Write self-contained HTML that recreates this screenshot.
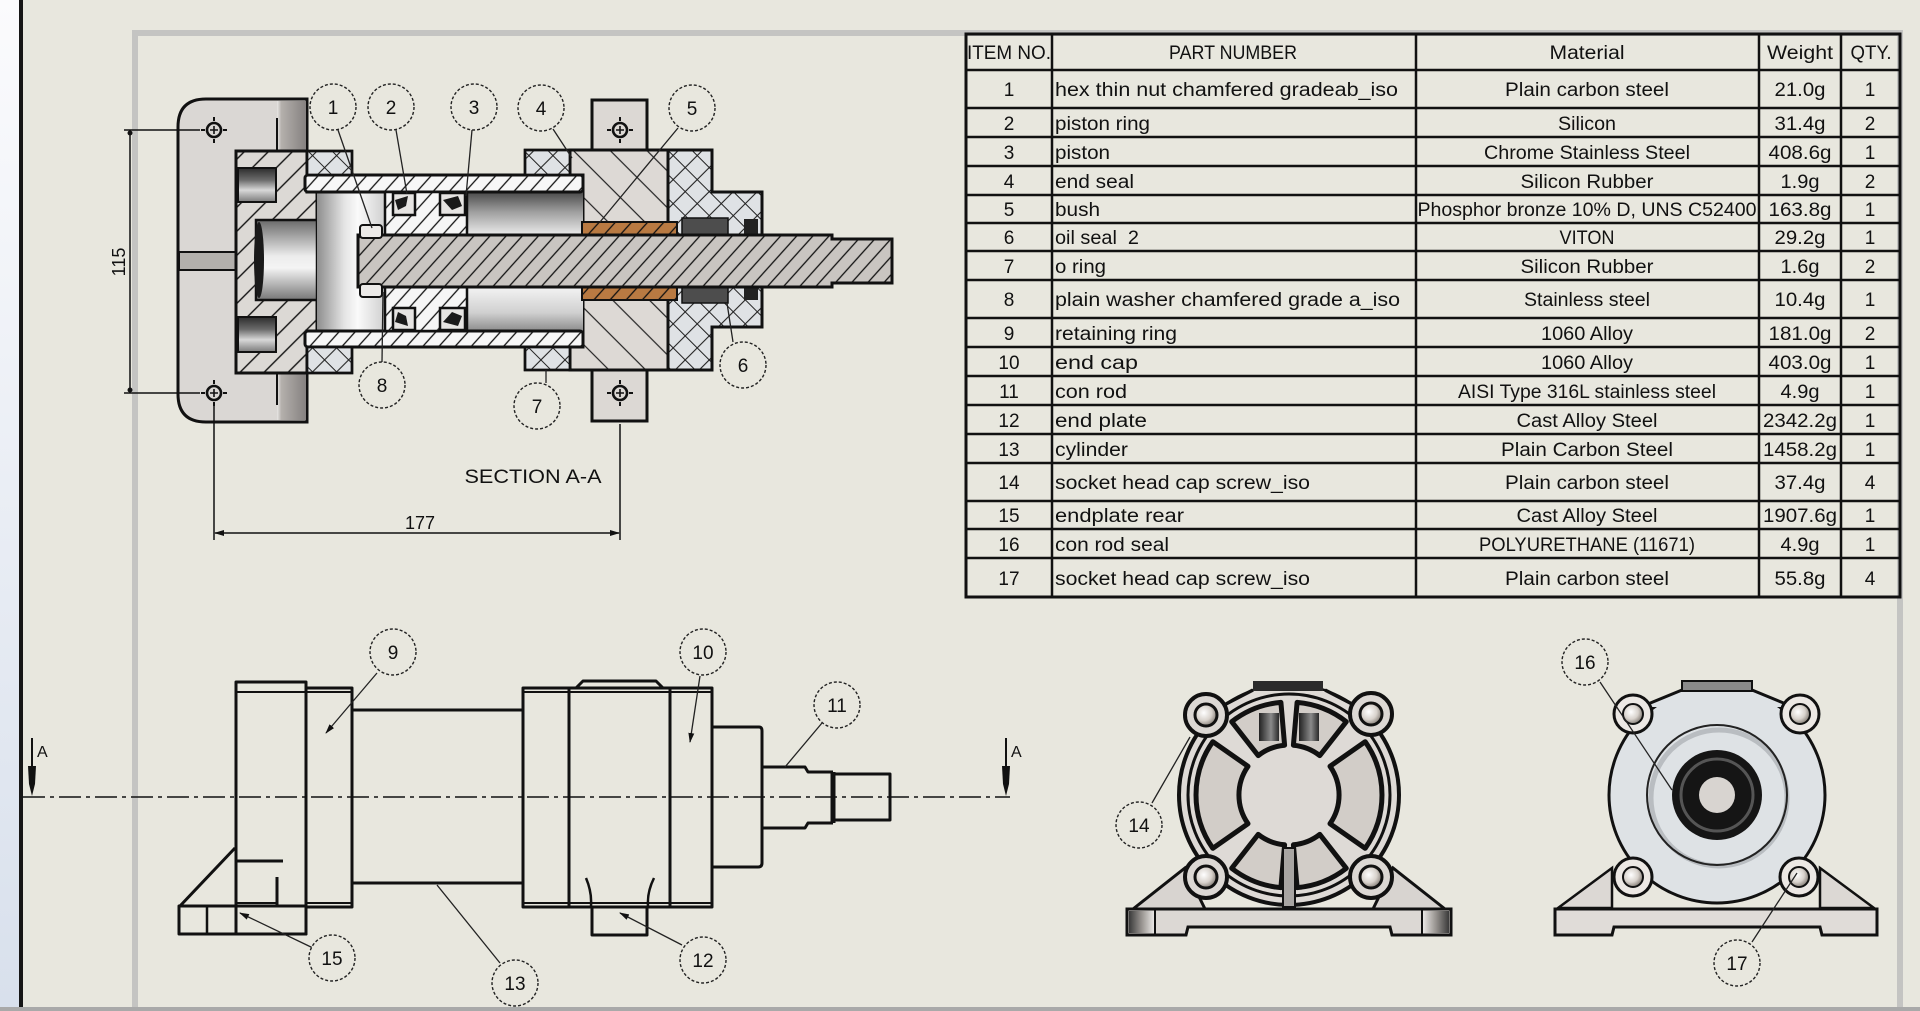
<!DOCTYPE html>
<html><head><meta charset="utf-8">
<style>
html,body{margin:0;padding:0;background:#e8e7de;overflow:hidden;width:1920px;height:1011px}
svg{display:block}
text{font-family:"Liberation Sans",sans-serif;fill:#111}
</style></head><body>
<svg width="1920" height="1011" viewBox="0 0 1920 1011" xmlns="http://www.w3.org/2000/svg">
<defs>
 <linearGradient id="gLeft" x1="0" y1="0" x2="0" y2="1"><stop offset="0" stop-color="#fbfbfd"/><stop offset="1" stop-color="#d8e0ec"/></linearGradient>
 <pattern id="hA" width="17" height="17" patternUnits="userSpaceOnUse" patternTransform="rotate(45)"><line x1="8" y1="0" x2="8" y2="17" stroke="#111" stroke-width="1.4"/></pattern>
 <pattern id="hB" width="12" height="12" patternUnits="userSpaceOnUse" patternTransform="rotate(42)"><line x1="6" y1="0" x2="6" y2="12" stroke="#111" stroke-width="1.3"/></pattern>
 <pattern id="hC" width="26" height="26" patternUnits="userSpaceOnUse" patternTransform="rotate(-45)"><line x1="13" y1="0" x2="13" y2="26" stroke="#222" stroke-width="1.2"/></pattern>
 <pattern id="hX" width="17" height="17" patternUnits="userSpaceOnUse" patternTransform="rotate(45)"><line x1="8" y1="0" x2="8" y2="17" stroke="#222" stroke-width="1.1"/><line x1="0" y1="8" x2="17" y2="8" stroke="#222" stroke-width="1.1"/></pattern>
 <linearGradient id="gStrip" x1="0" y1="0" x2="1" y2="0"><stop offset="0" stop-color="#e8e6e4"/><stop offset="0.15" stop-color="#b4b0ac"/><stop offset="1" stop-color="#858180"/></linearGradient>
 <linearGradient id="gBore" x1="0" y1="0" x2="0" y2="1"><stop offset="0" stop-color="#2c2c2c"/><stop offset="0.35" stop-color="#6a6a6a"/><stop offset="0.65" stop-color="#d8d8d8"/><stop offset="1" stop-color="#7a7a7a"/></linearGradient>
 <linearGradient id="gBoss" x1="0" y1="0" x2="0" y2="1"><stop offset="0" stop-color="#6a6a6a"/><stop offset="0.45" stop-color="#ececec"/><stop offset="0.6" stop-color="#f4f4f4"/><stop offset="1" stop-color="#777"/></linearGradient>
 <linearGradient id="gCh" x1="0" y1="0" x2="1" y2="0"><stop offset="0" stop-color="#8e8e8e"/><stop offset="0.4" stop-color="#e4e4e4"/><stop offset="0.6" stop-color="#fafafa"/><stop offset="1" stop-color="#cfcfcf"/></linearGradient>
 <linearGradient id="gChT" x1="0" y1="0" x2="0" y2="1"><stop offset="0" stop-color="#4a4a4a"/><stop offset="0.45" stop-color="#a0a0a0"/><stop offset="1" stop-color="#f2f2f2"/></linearGradient>
 <linearGradient id="gChB" x1="0" y1="0" x2="0" y2="1"><stop offset="0" stop-color="#f6f6f6"/><stop offset="0.6" stop-color="#d0d0d0"/><stop offset="1" stop-color="#8c8c8c"/></linearGradient>
 <linearGradient id="gEnd" x1="0" y1="0" x2="1" y2="0"><stop offset="0" stop-color="#f0eeec"/><stop offset="0.5" stop-color="#9a9692"/><stop offset="1" stop-color="#3a3a3a"/></linearGradient>
 <linearGradient id="gEnd2" x1="1" y1="0" x2="0" y2="0"><stop offset="0" stop-color="#f0eeec"/><stop offset="0.5" stop-color="#9a9692"/><stop offset="1" stop-color="#3a3a3a"/></linearGradient>
 <linearGradient id="gDark" x1="0" y1="0" x2="1" y2="0"><stop offset="0" stop-color="#222"/><stop offset="0.6" stop-color="#8a8a8a"/><stop offset="1" stop-color="#2a2a2a"/></linearGradient>
 <radialGradient id="gBolt" cx="0.4" cy="0.4" r="0.6"><stop offset="0" stop-color="#ffffff"/><stop offset="0.6" stop-color="#d8d2cc"/><stop offset="1" stop-color="#8a837c"/></radialGradient>
 <marker id="ar" markerWidth="10" markerHeight="6" refX="9" refY="3" orient="auto" markerUnits="userSpaceOnUse"><path d="M0,0 L10,3 L0,6 Z" fill="#111"/></marker>
 <marker id="ar2" markerWidth="10" markerHeight="6" refX="1" refY="3" orient="auto" markerUnits="userSpaceOnUse"><path d="M10,0 L0,3 L10,6 Z" fill="#111"/></marker>
 <g id="ch">
  <circle cx="0" cy="0" r="7" fill="none" stroke="#111" stroke-width="2.6"/>
  <path d="M-4,0 H4 M0,-4 V4" stroke="#111" stroke-width="1.6"/>
  <path d="M0,-13 V-9 M0,9 V13 M-13,0 H-9 M9,0 H13" stroke="#111" stroke-width="2"/>
 </g>
</defs>

<!-- background -->
<rect x="0" y="0" width="1920" height="1011" fill="#e8e7de"/>
<rect x="0" y="0" width="19" height="1011" fill="url(#gLeft)"/>
<rect x="19" y="0" width="4" height="1011" fill="#161616"/>
<rect x="132" y="30" width="1771" height="6" fill="#c4c4c2"/>
<rect x="132" y="30" width="6" height="977" fill="#c4c4c2"/>
<rect x="1897" y="30" width="6" height="977" fill="#c4c4c2"/>
<rect x="0" y="1007" width="1920" height="4" fill="#a9a9a9"/>

<!-- ================= SECTION A-A ================= -->
<!-- left flange -->
<path d="M307,99 H206 Q178,99 178,127 V394 Q178,422 206,422 H307 Z" fill="#dad7d4" stroke="#111" stroke-width="3"/>
<rect x="277" y="101" width="29" height="50" fill="url(#gStrip)"/>
<rect x="277" y="373" width="29" height="47" fill="url(#gStrip)"/>
<line x1="277" y1="118" x2="277" y2="151" stroke="#111" stroke-width="2"/>
<line x1="277" y1="373" x2="277" y2="405" stroke="#111" stroke-width="2"/>
<rect x="179" y="252" width="57" height="18" fill="#b3b0ac" stroke="#111" stroke-width="2"/>
<use href="#ch" x="214" y="130"/>
<use href="#ch" x="214" y="393"/>

<!-- rear hatched body -->
<path d="M236,151 H307 V192 H317 V331 H307 V373 H236 Z" fill="#dcd9d5"/>
<path d="M236,151 H307 V192 H317 V331 H307 V373 H236 Z" fill="url(#hA)" stroke="#111" stroke-width="3"/>
<rect x="238" y="168" width="38" height="34" fill="url(#gBore)" stroke="#111" stroke-width="2"/>
<rect x="238" y="317" width="38" height="35" fill="url(#gBore)" stroke="#111" stroke-width="2"/>
<rect x="256" y="220" width="61" height="80" fill="url(#gBoss)" stroke="#111" stroke-width="2.5"/>
<ellipse cx="259" cy="260" rx="5" ry="38" fill="#1a1a1a"/>
<rect x="317" y="192" width="68" height="139" fill="url(#gCh)"/>

<!-- front cap body -->
<path d="M570,150 H668 V370 H570 V347 H583 V175 H570 Z" fill="#ddd9d5"/>
<path d="M570,150 H668 V370 H570 V347 H583 V175 H570 Z" fill="url(#hC)" stroke="#111" stroke-width="3"/>
<rect x="592" y="100" width="55" height="50" fill="#dcd8d4" stroke="#111" stroke-width="3"/>
<rect x="592" y="370" width="55" height="51" fill="#dcd8d4" stroke="#111" stroke-width="3"/>
<use href="#ch" x="620" y="130"/>
<use href="#ch" x="620" y="393"/>

<!-- chambers right of piston -->
<rect x="465" y="192" width="118" height="45" fill="url(#gChT)"/>
<rect x="465" y="285" width="118" height="46" fill="url(#gChB)"/>

<!-- tubes -->
<rect x="305" y="175" width="278" height="17" rx="3" fill="#f7f7f7"/>
<rect x="305" y="175" width="278" height="17" rx="3" fill="url(#hB)" stroke="#111" stroke-width="3"/>
<rect x="305" y="331" width="278" height="16" rx="3" fill="#f7f7f7"/>
<rect x="305" y="331" width="278" height="16" rx="3" fill="url(#hB)" stroke="#111" stroke-width="3"/>

<!-- seal blocks (crosshatched) -->
<g stroke="#111" stroke-width="2.5">
 <rect x="307" y="151" width="45" height="24" fill="#dfe2e5"/>
 <rect x="307" y="347" width="45" height="26" fill="#dfe2e5"/>
 <rect x="525" y="150" width="45" height="25" fill="#dfe2e5"/>
 <rect x="525" y="347" width="45" height="23" fill="#dfe2e5"/>
</g>
<g fill="url(#hX)" stroke="#111" stroke-width="2.5">
 <rect x="307" y="151" width="45" height="24"/>
 <rect x="307" y="347" width="45" height="26"/>
 <rect x="525" y="150" width="45" height="25"/>
 <rect x="525" y="347" width="45" height="23"/>
</g>

<!-- piston -->
<rect x="385" y="192" width="82" height="45" fill="#f6f6f6"/>
<rect x="385" y="192" width="82" height="45" fill="url(#hB)" stroke="#111" stroke-width="2.5"/>
<rect x="385" y="285" width="82" height="46" fill="#f6f6f6"/>
<rect x="385" y="285" width="82" height="46" fill="url(#hB)" stroke="#111" stroke-width="2.5"/>
<g fill="#e6e4e2" stroke="#111" stroke-width="2.5">
 <rect x="393" y="193" width="22" height="22"/>
 <rect x="440" y="193" width="25" height="22"/>
 <rect x="393" y="308" width="22" height="22"/>
 <rect x="440" y="308" width="25" height="22"/>
</g>
<g fill="#1a1a1a">
 <path d="M395,200 L408,196 L406,206 L398,210 Z"/>
 <path d="M443,200 L458,196 L462,206 L452,210 Z"/>
 <path d="M395,322 L408,326 L406,316 L398,312 Z"/>
 <path d="M443,322 L458,326 L462,316 L452,312 Z"/>
</g>

<!-- crosshatched end block -->
<path d="M668,150 H712 V192 H762 V235 H668 Z" fill="#dfe2e5"/>
<path d="M668,287 H762 V327 H712 V370 H668 Z" fill="#dfe2e5"/>
<path d="M668,150 H712 V192 H762 V235 H668 Z" fill="url(#hX)" stroke="#111" stroke-width="3"/>
<path d="M668,287 H762 V327 H712 V370 H668 Z" fill="url(#hX)" stroke="#111" stroke-width="3"/>
<rect x="682" y="218" width="46" height="17" fill="#4d4d4d" stroke="#111" stroke-width="1.5"/>
<rect x="682" y="287" width="46" height="16" fill="#4d4d4d" stroke="#111" stroke-width="1.5"/>
<rect x="744" y="219" width="14" height="15" fill="#222"/>
<rect x="744" y="288" width="14" height="12" fill="#222"/>

<!-- bush -->
<rect x="582" y="222" width="95" height="13" fill="#b97a42"/>
<rect x="582" y="222" width="95" height="13" fill="url(#hB)" stroke="#111" stroke-width="2"/>
<rect x="582" y="287" width="95" height="13" fill="#b97a42"/>
<rect x="582" y="287" width="95" height="13" fill="url(#hB)" stroke="#111" stroke-width="2"/>

<!-- rod -->
<path d="M358,235 H832 V239 H892 V283 H832 V287 H358 Z" fill="#c9c5c1"/>
<path d="M358,235 H832 V239 H892 V283 H832 V287 H358 Z" fill="url(#hB)" stroke="#111" stroke-width="3"/>
<rect x="360" y="225" width="22" height="13" rx="3" fill="#eceae8" stroke="#111" stroke-width="2"/>
<rect x="360" y="284" width="22" height="13" rx="3" fill="#eceae8" stroke="#111" stroke-width="2"/>

<!-- dimension 115 -->
<g stroke="#111" stroke-width="1.5">
 <line x1="124" y1="130" x2="200" y2="130"/>
 <line x1="124" y1="393" x2="200" y2="393"/>
 <line x1="130" y1="130" x2="130" y2="393"/>
</g>
<circle cx="130" cy="133" r="2.5" fill="#111"/>
<circle cx="130" cy="390" r="2.5" fill="#111"/>
<text transform="translate(125,262) rotate(-90)" text-anchor="middle" font-size="18">115</text>

<!-- dimension 177 -->
<g stroke="#111" stroke-width="1.5">
 <line x1="214" y1="402" x2="214" y2="540"/>
 <line x1="620" y1="424" x2="620" y2="540"/>
 <line x1="215" y1="533" x2="619" y2="533" marker-start="url(#ar2)" marker-end="url(#ar)"/>
</g>
<text x="420" y="529" text-anchor="middle" font-size="18">177</text>
<text x="533" y="483" text-anchor="middle" font-size="19" textLength="137" lengthAdjust="spacingAndGlyphs">SECTION A-A</text>

<!-- section leaders -->
<g stroke="#222" stroke-width="1.3">
 <line x1="338" y1="130" x2="372" y2="228"/>
 <line x1="396" y1="130" x2="407" y2="194"/>
 <line x1="472" y1="130" x2="466" y2="196"/>
 <line x1="553" y1="129" x2="572" y2="158"/>
 <line x1="678" y1="128" x2="600" y2="222"/>
 <line x1="733" y1="342" x2="727" y2="303"/>
 <line x1="546" y1="383" x2="546" y2="370"/>
 <line x1="382" y1="362" x2="383" y2="292"/>
</g>

<!-- ================= SIDE VIEW ================= -->
<g stroke="#111" stroke-width="3" fill="none" stroke-linejoin="round">
 <rect x="236" y="682" width="70" height="252"/>
 <line x1="236" y1="692" x2="306" y2="692" stroke-width="2"/>
 <rect x="306" y="688" width="46" height="219"/>
 <line x1="306" y1="692" x2="352" y2="692" stroke-width="2"/>
 <line x1="306" y1="903" x2="352" y2="903" stroke-width="2"/>
 <line x1="352" y1="710" x2="523" y2="710"/>
 <line x1="352" y1="883" x2="523" y2="883"/>
 <line x1="235" y1="848" x2="180" y2="906"/>
 <rect x="179" y="906" width="127" height="28"/>
 <line x1="207" y1="906" x2="207" y2="934" stroke-width="2.5"/>
 <line x1="237" y1="861" x2="283" y2="861"/>
 <line x1="277" y1="877" x2="277" y2="906"/>
 <line x1="237" y1="903" x2="277" y2="903" stroke-width="2"/>
 <rect x="523" y="688" width="189" height="219"/>
 <line x1="523" y1="692" x2="712" y2="692" stroke-width="2"/>
 <line x1="523" y1="903" x2="712" y2="903" stroke-width="2"/>
 <line x1="569" y1="688" x2="569" y2="907"/>
 <line x1="670" y1="688" x2="670" y2="907"/>
 <path d="M576,688 L583,681 H656 L663,688"/>
 <path d="M592,907 V935 H647 V907"/>
 <path d="M586,878 Q592,892 591,906" stroke-width="2.5"/>
 <path d="M654,878 Q647,892 648,906" stroke-width="2.5"/>
 <path d="M712,727 H759 Q762,727 762,731 V863 Q762,867 758,867 H712"/>
 <path d="M762,767 H805 L808,772 H833 M833,823 H808 L805,828 H762"/>
 <rect x="833" y="774" width="57" height="46"/>
</g>
<line x1="833" y1="772" x2="833" y2="823" stroke="#111" stroke-width="5"/>

<!-- centerline + section arrows -->
<line x1="23" y1="797" x2="1010" y2="797" stroke="#111" stroke-width="1.5" stroke-dasharray="22 5 4 5"/>
<line x1="32" y1="738" x2="32" y2="768" stroke="#111" stroke-width="2"/>
<path d="M28,766 L36,766 L35,784 L32,796 L29,784 Z" fill="#111"/>
<text x="37" y="757" font-size="16">A</text>
<line x1="1006" y1="738" x2="1006" y2="768" stroke="#111" stroke-width="2"/>
<path d="M1002,766 L1010,766 L1009,784 L1006,796 L1003,784 Z" fill="#111"/>
<text x="1011" y="757" font-size="16">A</text>

<!-- side view leaders -->
<g stroke="#222" stroke-width="1.3">
 <line x1="377" y1="673" x2="326" y2="733" marker-end="url(#ar)"/>
 <line x1="700" y1="676" x2="690" y2="742" marker-end="url(#ar)"/>
 <line x1="822" y1="723" x2="785" y2="767"/>
 <line x1="682" y1="945" x2="620" y2="913" marker-end="url(#ar)"/>
 <line x1="500" y1="963" x2="437" y2="885"/>
 <line x1="313" y1="948" x2="240" y2="913" marker-end="url(#ar)"/>
</g>

<!-- ================= FRONT VIEW 1 ================= -->
<path d="M1127,909 H1451 V935 H1392 L1390,927 H1188 L1186,935 H1127 Z" fill="#dcd8d4" stroke="#111" stroke-width="3"/>
<rect x="1129" y="911" width="26" height="22" fill="url(#gEnd2)"/>
<rect x="1422" y="911" width="27" height="22" fill="url(#gEnd)"/>
<line x1="1155" y1="910" x2="1155" y2="934" stroke="#111" stroke-width="2"/>
<line x1="1422" y1="910" x2="1422" y2="934" stroke="#111" stroke-width="2"/>
<polygon points="1133,909 1185,868 1205,909" fill="#d8d4d0" stroke="#111" stroke-width="3"/>
<polygon points="1445,909 1393,868 1373,909" fill="#d8d4d0" stroke="#111" stroke-width="3"/>
<circle cx="1289" cy="795" r="110" fill="#dedad6" stroke="#111" stroke-width="4"/>
<polygon points="1222,708 1253,691 1325,691 1356,708" fill="#dedad6"/>
<line x1="1224" y1="705" x2="1253" y2="690" stroke="#111" stroke-width="3.5"/>
<line x1="1354" y1="705" x2="1325" y2="690" stroke="#111" stroke-width="3.5"/>
<rect x="1253" y="681" width="70" height="10" fill="#2b2b2b"/>
<circle cx="1289" cy="795" r="101" fill="none" stroke="#111" stroke-width="3"/>
<g fill="#d2cdc8" stroke="#111" stroke-width="5" stroke-linejoin="round">
 <path d="M1212.8,848.3 A93,93 0 0 1 1212.8,741.7 L1248,766.3 A50,50 0 0 0 1248,823.7 Z"/>
 <path d="M1365.2,741.7 A93,93 0 0 1 1365.2,848.3 L1330,823.7 A50,50 0 0 0 1330,766.3 Z"/>
 <path d="M1231.7,721.7 A93,93 0 0 1 1280.9,702.4 L1284.6,745.2 A50,50 0 0 0 1258.2,755.6 Z"/>
 <path d="M1297.1,702.4 A93,93 0 0 1 1346.3,721.7 L1319.8,755.6 A50,50 0 0 0 1293.4,745.2 Z"/>
 <path d="M1280.9,887.6 A93,93 0 0 1 1231.7,868.3 L1258.2,834.4 A50,50 0 0 0 1284.6,844.8 Z"/>
 <path d="M1346.3,868.3 A93,93 0 0 1 1297.1,887.6 L1293.4,844.8 A50,50 0 0 0 1319.8,834.4 Z"/>
</g>
<rect x="1259" y="713" width="20" height="28" fill="url(#gDark)"/>
<rect x="1299" y="713" width="20" height="28" fill="url(#gDark)"/>
<rect x="1283" y="848" width="12" height="59" fill="#a8a5a2" stroke="#111" stroke-width="2"/>
<g stroke="#111">
 <circle cx="1206" cy="715" r="21" fill="#dcd8d4" stroke-width="4"/>
 <circle cx="1371" cy="714" r="21" fill="#dcd8d4" stroke-width="4"/>
 <circle cx="1206" cy="877" r="21" fill="#dcd8d4" stroke-width="4"/>
 <circle cx="1371" cy="877" r="21" fill="#dcd8d4" stroke-width="4"/>
 <circle cx="1206" cy="715" r="11" fill="url(#gBolt)" stroke-width="3"/>
 <circle cx="1371" cy="714" r="11" fill="url(#gBolt)" stroke-width="3"/>
 <circle cx="1206" cy="877" r="11" fill="url(#gBolt)" stroke-width="3"/>
 <circle cx="1371" cy="877" r="11" fill="url(#gBolt)" stroke-width="3"/>
</g>
<line x1="1152" y1="803" x2="1190" y2="737" stroke="#222" stroke-width="1.3"/>

<!-- ================= FRONT VIEW 2 ================= -->
<path d="M1555,909 H1877 V935 H1822 L1820,927 H1614 L1612,935 H1555 Z" fill="#e0dcd8" stroke="#111" stroke-width="3"/>
<polygon points="1558,908 1612,868 1612,908" fill="#dcd8d4" stroke="#111" stroke-width="2.5"/>
<polygon points="1874,908 1820,868 1820,908" fill="#dcd8d4" stroke="#111" stroke-width="2.5"/>
<circle cx="1717" cy="795" r="108" fill="#dee2e5" stroke="#111" stroke-width="3"/>
<polygon points="1645,707 1682,691 1752,691 1789,707" fill="#dee2e5"/>
<line x1="1648" y1="704" x2="1682" y2="690" stroke="#111" stroke-width="3"/>
<line x1="1786" y1="704" x2="1752" y2="690" stroke="#111" stroke-width="3"/>
<rect x="1682" y="681" width="70" height="10" fill="#8a8a8a" stroke="#111" stroke-width="2"/>
<circle cx="1719" cy="798" r="68" fill="none" stroke="#b9bdc1" stroke-width="5"/>
<circle cx="1717" cy="795" r="70" fill="none" stroke="#222" stroke-width="2"/>
<circle cx="1717" cy="795" r="45" fill="#151515"/>
<circle cx="1717" cy="795" r="36" fill="none" stroke="#555" stroke-width="3"/>
<circle cx="1717" cy="795" r="18" fill="#d8d4d0"/>
<g stroke="#111">
 <circle cx="1633" cy="714" r="19" fill="#ece8e4" stroke-width="3"/>
 <circle cx="1800" cy="714" r="19" fill="#ece8e4" stroke-width="3"/>
 <circle cx="1633" cy="877" r="19" fill="#ece8e4" stroke-width="3"/>
 <circle cx="1799" cy="877" r="19" fill="#ece8e4" stroke-width="3"/>
 <circle cx="1633" cy="714" r="10" fill="url(#gBolt)" stroke-width="2"/>
 <circle cx="1800" cy="714" r="10" fill="url(#gBolt)" stroke-width="2"/>
 <circle cx="1633" cy="877" r="10" fill="url(#gBolt)" stroke-width="2"/>
 <circle cx="1799" cy="877" r="10" fill="url(#gBolt)" stroke-width="2"/>
</g>
<line x1="1600" y1="682" x2="1672" y2="790" stroke="#222" stroke-width="1.3"/>
<line x1="1752" y1="942" x2="1797" y2="873" stroke="#222" stroke-width="1.3"/>

<!-- ================= BALLOONS ================= -->
<g fill="#e8e7de" stroke="#222" stroke-width="1.4" stroke-dasharray="3 2">
 <circle cx="333" cy="107" r="23"/>
 <circle cx="391" cy="107" r="23"/>
 <circle cx="474" cy="107" r="23"/>
 <circle cx="541" cy="108" r="23"/>
 <circle cx="692" cy="108" r="23"/>
 <circle cx="743" cy="365" r="23"/>
 <circle cx="537" cy="406" r="23"/>
 <circle cx="382" cy="385" r="23"/>
 <circle cx="393" cy="652" r="23"/>
 <circle cx="703" cy="652" r="23"/>
 <circle cx="837" cy="705" r="23"/>
 <circle cx="703" cy="960" r="23"/>
 <circle cx="515" cy="983" r="23"/>
 <circle cx="332" cy="958" r="23"/>
 <circle cx="1139" cy="825" r="23"/>
 <circle cx="1585" cy="662" r="23"/>
 <circle cx="1737" cy="963" r="23"/>
</g>
<g font-size="19" text-anchor="middle">
 <text x="333" y="114">1</text>
 <text x="391" y="114">2</text>
 <text x="474" y="114">3</text>
 <text x="541" y="115">4</text>
 <text x="692" y="115">5</text>
 <text x="743" y="372">6</text>
 <text x="537" y="413">7</text>
 <text x="382" y="392">8</text>
 <text x="393" y="659">9</text>
 <text x="703" y="659">10</text>
 <text x="837" y="712">11</text>
 <text x="703" y="967">12</text>
 <text x="515" y="990">13</text>
 <text x="332" y="965">15</text>
 <text x="1139" y="832">14</text>
 <text x="1585" y="669">16</text>
 <text x="1737" y="970">17</text>
</g>

<!-- ================= TABLE ================= -->
<g stroke="#111" stroke-width="2.5" fill="none">
 <rect x="966" y="34" width="934" height="563" stroke-width="3"/>
 <line x1="1052" y1="34" x2="1052" y2="597"/>
 <line x1="1416" y1="34" x2="1416" y2="597"/>
 <line x1="1759" y1="34" x2="1759" y2="597"/>
 <line x1="1841" y1="34" x2="1841" y2="597"/>
 <line x1="966" y1="70" x2="1900" y2="70"/>
 <line x1="966" y1="108" x2="1900" y2="108"/>
 <line x1="966" y1="137" x2="1900" y2="137"/>
 <line x1="966" y1="166" x2="1900" y2="166"/>
 <line x1="966" y1="195" x2="1900" y2="195"/>
 <line x1="966" y1="223" x2="1900" y2="223"/>
 <line x1="966" y1="251" x2="1900" y2="251"/>
 <line x1="966" y1="280" x2="1900" y2="280"/>
 <line x1="966" y1="318" x2="1900" y2="318"/>
 <line x1="966" y1="347" x2="1900" y2="347"/>
 <line x1="966" y1="376" x2="1900" y2="376"/>
 <line x1="966" y1="405" x2="1900" y2="405"/>
 <line x1="966" y1="434" x2="1900" y2="434"/>
 <line x1="966" y1="463" x2="1900" y2="463"/>
 <line x1="966" y1="501" x2="1900" y2="501"/>
 <line x1="966" y1="529" x2="1900" y2="529"/>
 <line x1="966" y1="558" x2="1900" y2="558"/>
</g>
<g font-size="19">
 <!-- header -->
 <text x="1009" y="59" text-anchor="middle" textLength="84" lengthAdjust="spacingAndGlyphs">ITEM NO.</text>
 <text x="1233" y="59" text-anchor="middle" textLength="128" lengthAdjust="spacingAndGlyphs">PART NUMBER</text>
 <text x="1587" y="59" text-anchor="middle" textLength="75" lengthAdjust="spacingAndGlyphs">Material</text>
 <text x="1800" y="59" text-anchor="middle" textLength="66" lengthAdjust="spacingAndGlyphs">Weight</text>
 <text x="1871" y="59" text-anchor="middle" textLength="41" lengthAdjust="spacingAndGlyphs">QTY.</text>

 <text x="1009" y="96" text-anchor="middle">1</text>
 <text x="1055" y="96" textLength="343" lengthAdjust="spacingAndGlyphs">hex thin nut chamfered gradeab_iso</text>
 <text x="1587" y="96" text-anchor="middle" textLength="164" lengthAdjust="spacingAndGlyphs">Plain carbon steel</text>
 <text x="1800" y="96" text-anchor="middle" textLength="51" lengthAdjust="spacingAndGlyphs">21.0g</text>
 <text x="1870" y="96" text-anchor="middle">1</text>

 <text x="1009" y="130" text-anchor="middle">2</text>
 <text x="1055" y="130" textLength="95" lengthAdjust="spacingAndGlyphs">piston ring</text>
 <text x="1587" y="130" text-anchor="middle" textLength="58" lengthAdjust="spacingAndGlyphs">Silicon</text>
 <text x="1800" y="130" text-anchor="middle" textLength="51" lengthAdjust="spacingAndGlyphs">31.4g</text>
 <text x="1870" y="130" text-anchor="middle">2</text>

 <text x="1009" y="159" text-anchor="middle">3</text>
 <text x="1055" y="159" textLength="55" lengthAdjust="spacingAndGlyphs">piston</text>
 <text x="1587" y="159" text-anchor="middle" textLength="206" lengthAdjust="spacingAndGlyphs">Chrome Stainless Steel</text>
 <text x="1800" y="159" text-anchor="middle" textLength="63" lengthAdjust="spacingAndGlyphs">408.6g</text>
 <text x="1870" y="159" text-anchor="middle">1</text>

 <text x="1009" y="188" text-anchor="middle">4</text>
 <text x="1055" y="188" textLength="79" lengthAdjust="spacingAndGlyphs">end seal</text>
 <text x="1587" y="188" text-anchor="middle" textLength="133" lengthAdjust="spacingAndGlyphs">Silicon Rubber</text>
 <text x="1800" y="188" text-anchor="middle" textLength="39" lengthAdjust="spacingAndGlyphs">1.9g</text>
 <text x="1870" y="188" text-anchor="middle">2</text>

 <text x="1009" y="216" text-anchor="middle">5</text>
 <text x="1055" y="216" textLength="45" lengthAdjust="spacingAndGlyphs">bush</text>
 <text x="1587" y="216" text-anchor="middle" textLength="339" lengthAdjust="spacingAndGlyphs">Phosphor bronze 10% D, UNS C52400</text>
 <text x="1800" y="216" text-anchor="middle" textLength="63" lengthAdjust="spacingAndGlyphs">163.8g</text>
 <text x="1870" y="216" text-anchor="middle">1</text>

 <text x="1009" y="244" text-anchor="middle">6</text>
 <text x="1055" y="244" textLength="84" lengthAdjust="spacingAndGlyphs" xml:space="preserve">oil seal  2</text>
 <text x="1587" y="244" text-anchor="middle" textLength="55" lengthAdjust="spacingAndGlyphs">VITON</text>
 <text x="1800" y="244" text-anchor="middle" textLength="51" lengthAdjust="spacingAndGlyphs">29.2g</text>
 <text x="1870" y="244" text-anchor="middle">1</text>

 <text x="1009" y="273" text-anchor="middle">7</text>
 <text x="1055" y="273" textLength="51" lengthAdjust="spacingAndGlyphs">o ring</text>
 <text x="1587" y="273" text-anchor="middle" textLength="133" lengthAdjust="spacingAndGlyphs">Silicon Rubber</text>
 <text x="1800" y="273" text-anchor="middle" textLength="39" lengthAdjust="spacingAndGlyphs">1.6g</text>
 <text x="1870" y="273" text-anchor="middle">2</text>

 <text x="1009" y="306" text-anchor="middle">8</text>
 <text x="1055" y="306" textLength="345" lengthAdjust="spacingAndGlyphs">plain washer chamfered grade a_iso</text>
 <text x="1587" y="306" text-anchor="middle" textLength="126" lengthAdjust="spacingAndGlyphs">Stainless steel</text>
 <text x="1800" y="306" text-anchor="middle" textLength="51" lengthAdjust="spacingAndGlyphs">10.4g</text>
 <text x="1870" y="306" text-anchor="middle">1</text>

 <text x="1009" y="340" text-anchor="middle">9</text>
 <text x="1055" y="340" textLength="122" lengthAdjust="spacingAndGlyphs">retaining ring</text>
 <text x="1587" y="340" text-anchor="middle" textLength="92" lengthAdjust="spacingAndGlyphs">1060 Alloy</text>
 <text x="1800" y="340" text-anchor="middle" textLength="63" lengthAdjust="spacingAndGlyphs">181.0g</text>
 <text x="1870" y="340" text-anchor="middle">2</text>

 <text x="1009" y="369" text-anchor="middle">10</text>
 <text x="1055" y="369" textLength="83" lengthAdjust="spacingAndGlyphs">end cap</text>
 <text x="1587" y="369" text-anchor="middle" textLength="92" lengthAdjust="spacingAndGlyphs">1060 Alloy</text>
 <text x="1800" y="369" text-anchor="middle" textLength="63" lengthAdjust="spacingAndGlyphs">403.0g</text>
 <text x="1870" y="369" text-anchor="middle">1</text>

 <text x="1009" y="398" text-anchor="middle">11</text>
 <text x="1055" y="398" textLength="72" lengthAdjust="spacingAndGlyphs">con rod</text>
 <text x="1587" y="398" text-anchor="middle" textLength="258" lengthAdjust="spacingAndGlyphs">AISI Type 316L stainless steel</text>
 <text x="1800" y="398" text-anchor="middle" textLength="39" lengthAdjust="spacingAndGlyphs">4.9g</text>
 <text x="1870" y="398" text-anchor="middle">1</text>

 <text x="1009" y="427" text-anchor="middle">12</text>
 <text x="1055" y="427" textLength="92" lengthAdjust="spacingAndGlyphs">end plate</text>
 <text x="1587" y="427" text-anchor="middle" textLength="141" lengthAdjust="spacingAndGlyphs">Cast Alloy Steel</text>
 <text x="1800" y="427" text-anchor="middle" textLength="74" lengthAdjust="spacingAndGlyphs">2342.2g</text>
 <text x="1870" y="427" text-anchor="middle">1</text>

 <text x="1009" y="456" text-anchor="middle">13</text>
 <text x="1055" y="456" textLength="73" lengthAdjust="spacingAndGlyphs">cylinder</text>
 <text x="1587" y="456" text-anchor="middle" textLength="172" lengthAdjust="spacingAndGlyphs">Plain Carbon Steel</text>
 <text x="1800" y="456" text-anchor="middle" textLength="74" lengthAdjust="spacingAndGlyphs">1458.2g</text>
 <text x="1870" y="456" text-anchor="middle">1</text>

 <text x="1009" y="489" text-anchor="middle">14</text>
 <text x="1055" y="489" textLength="255" lengthAdjust="spacingAndGlyphs">socket head cap screw_iso</text>
 <text x="1587" y="489" text-anchor="middle" textLength="164" lengthAdjust="spacingAndGlyphs">Plain carbon steel</text>
 <text x="1800" y="489" text-anchor="middle" textLength="51" lengthAdjust="spacingAndGlyphs">37.4g</text>
 <text x="1870" y="489" text-anchor="middle">4</text>

 <text x="1009" y="522" text-anchor="middle">15</text>
 <text x="1055" y="522" textLength="129" lengthAdjust="spacingAndGlyphs">endplate rear</text>
 <text x="1587" y="522" text-anchor="middle" textLength="141" lengthAdjust="spacingAndGlyphs">Cast Alloy Steel</text>
 <text x="1800" y="522" text-anchor="middle" textLength="74" lengthAdjust="spacingAndGlyphs">1907.6g</text>
 <text x="1870" y="522" text-anchor="middle">1</text>

 <text x="1009" y="551" text-anchor="middle">16</text>
 <text x="1055" y="551" textLength="114" lengthAdjust="spacingAndGlyphs">con rod seal</text>
 <text x="1587" y="551" text-anchor="middle" textLength="216" lengthAdjust="spacingAndGlyphs">POLYURETHANE (11671)</text>
 <text x="1800" y="551" text-anchor="middle" textLength="39" lengthAdjust="spacingAndGlyphs">4.9g</text>
 <text x="1870" y="551" text-anchor="middle">1</text>

 <text x="1009" y="585" text-anchor="middle">17</text>
 <text x="1055" y="585" textLength="255" lengthAdjust="spacingAndGlyphs">socket head cap screw_iso</text>
 <text x="1587" y="585" text-anchor="middle" textLength="164" lengthAdjust="spacingAndGlyphs">Plain carbon steel</text>
 <text x="1800" y="585" text-anchor="middle" textLength="51" lengthAdjust="spacingAndGlyphs">55.8g</text>
 <text x="1870" y="585" text-anchor="middle">4</text>
</g>
</svg>
</body></html>
